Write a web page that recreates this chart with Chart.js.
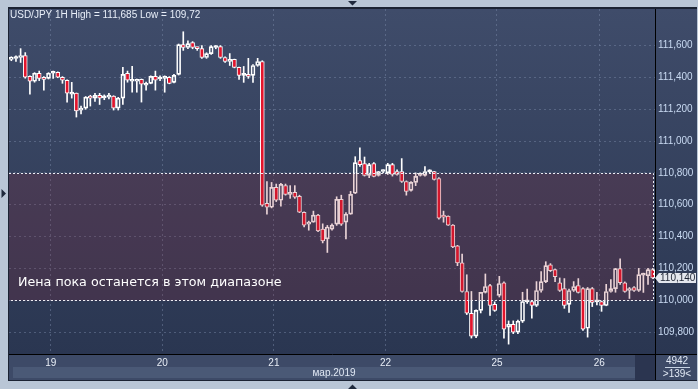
<!DOCTYPE html>
<html>
<head>
<meta charset="utf-8">
<script src="https://cdn.jsdelivr.net/npm/chart.js@4.4.1/dist/chart.umd.min.js"></script>
<style>
  html, body { margin: 0; padding: 0; background: #b9c6d6; overflow: hidden; }
</style>
</head>
<body>
<canvas id="chart" width="698" height="389"></canvas>
<script>
// USD/JPY 1H, 18.03 15:00 .. 26.03 11:00
const opens = [
  111.513, 111.519, 111.525, 111.538, 111.407, 111.376, 111.426, 111.401, 111.394, 111.426,
  111.432, 111.401, 111.382, 111.295, 111.301, 111.195, 111.207, 111.282, 111.27, 111.288,
  111.272, 111.276, 111.282, 111.207, 111.27, 111.426, 111.376, 111.376, 111.388, 111.351,
  111.363, 111.407, 111.39, 111.394, 111.401, 111.369, 111.419, 111.606, 111.588, 111.619,
  111.588, 111.581, 111.525, 111.55, 111.588, 111.594, 111.525, 111.50, 111.513, 111.463,
  111.413, 111.413, 111.413, 111.475, 111.50, 110.609, 110.584, 110.709, 110.628, 110.721,
  110.665, 110.678, 110.653, 110.553, 110.478, 110.491, 110.535, 110.447, 110.385, 110.447,
  110.478, 110.634, 110.491, 110.541, 110.672, 110.877, 110.859, 110.784, 110.859, 110.784,
  110.809, 110.80, 110.852, 110.809, 110.809, 110.746, 110.69, 110.74, 110.784, 110.784,
  110.806, 110.809, 110.765, 110.528, 110.528, 110.472, 110.341, 110.235, 110.055, 109.918,
  109.774, 109.936, 110.049, 110.092, 109.974, 110.03, 110.11, 109.83, 109.849, 109.799,
  109.868, 109.99, 109.992, 109.967, 110.061, 110.117, 110.223, 110.192, 110.11, 110.073,
  109.974, 110.061, 110.092, 110.073, 109.824, 110.073, 109.99, 109.992, 109.967, 110.055,
  110.073, 110.198, 110.11, 110.061, 110.08, 110.061, 110.158, 110.154, 110.192
];
const highs = [
  111.53, 111.535, 111.581, 111.556, 111.41, 111.43, 111.44, 111.405, 111.43, 111.44,
  111.435, 111.405, 111.385, 111.369, 111.302, 111.22, 111.28, 111.288, 111.30, 111.30,
  111.29, 111.30, 111.285, 111.275, 111.463, 111.44, 111.469, 111.39, 111.39, 111.37,
  111.41, 111.44, 111.41, 111.41, 111.405, 111.42, 111.61, 111.687, 111.63, 111.625,
  111.59, 111.60, 111.555, 111.60, 111.60, 111.60, 111.53, 111.55, 111.515, 111.465,
  111.469, 111.52, 111.48, 111.52, 111.505, 110.746, 110.74, 110.73, 110.735, 110.73,
  110.72, 110.72, 110.66, 110.555, 110.497, 110.56, 110.54, 110.48, 110.47, 110.48,
  110.65, 110.66, 110.55, 110.684, 110.902, 110.958, 110.90, 110.86, 110.865, 110.81,
  110.82, 110.86, 110.86, 110.82, 110.89, 110.75, 110.745, 110.80, 110.80, 110.84,
  110.82, 110.81, 110.77, 110.56, 110.53, 110.475, 110.345, 110.29, 110.16, 110.055,
  109.94, 110.05, 110.165, 110.10, 109.99, 110.15, 110.115, 109.87, 109.87, 109.875,
  110.05, 110.07, 109.995, 110.117, 110.18, 110.242, 110.23, 110.195, 110.14, 110.136,
  110.07, 110.117, 110.136, 110.08, 110.08, 110.08, 110.05, 109.995, 110.10, 110.13,
  110.20, 110.26, 110.115, 110.08, 110.085, 110.20, 110.17, 110.20, 110.20
];
const lows = [
  111.505, 111.50, 111.494, 111.395, 111.295, 111.37, 111.38, 111.32, 111.39, 111.394,
  111.398, 111.363, 111.245, 111.27, 111.151, 111.17, 111.20, 111.22, 111.25, 111.23,
  111.26, 111.265, 111.195, 111.195, 111.23, 111.37, 111.307, 111.307, 111.245, 111.32,
  111.36, 111.32, 111.38, 111.307, 111.36, 111.365, 111.415, 111.57, 111.58, 111.58,
  111.57, 111.52, 111.52, 111.545, 111.58, 111.52, 111.495, 111.475, 111.46, 111.388,
  111.369, 111.394, 111.369, 111.47, 110.59, 110.541, 110.58, 110.62, 110.591, 110.66,
  110.64, 110.64, 110.55, 110.46, 110.44, 110.49, 110.43, 110.36, 110.30, 110.44,
  110.47, 110.47, 110.385, 110.54, 110.67, 110.84, 110.78, 110.77, 110.775, 110.78,
  110.80, 110.79, 110.78, 110.785, 110.74, 110.66, 110.685, 110.72, 110.78, 110.78,
  110.80, 110.755, 110.51, 110.49, 110.47, 110.33, 110.217, 110.05, 109.91, 109.762,
  109.765, 109.92, 110.045, 109.905, 109.93, 110.02, 109.762, 109.724, 109.79, 109.79,
  109.86, 109.98, 109.887, 109.96, 110.05, 110.11, 110.18, 110.117, 110.055, 109.949,
  109.924, 110.055, 110.045, 109.81, 109.768, 109.96, 109.97, 109.93, 109.965, 110.05,
  110.05, 110.10, 110.05, 110.011, 110.055, 110.055, 110.049, 110.10, 110.135
];
const closes = [
  111.525, 111.525, 111.538, 111.401, 111.376, 111.426, 111.394, 111.388, 111.426, 111.432,
  111.401, 111.382, 111.301, 111.301, 111.189, 111.207, 111.276, 111.27, 111.288, 111.27,
  111.278, 111.288, 111.207, 111.27, 111.419, 111.382, 111.382, 111.388, 111.357, 111.357,
  111.407, 111.382, 111.396, 111.401, 111.363, 111.413, 111.606, 111.588, 111.612, 111.588,
  111.581, 111.525, 111.55, 111.594, 111.594, 111.525, 111.50, 111.513, 111.463, 111.413,
  111.415, 111.407, 111.475, 111.50, 110.597, 110.584, 110.709, 110.628, 110.728, 110.665,
  110.672, 110.647, 110.553, 110.472, 110.491, 110.535, 110.435, 110.373, 110.46, 110.472,
  110.634, 110.478, 110.541, 110.665, 110.865, 110.852, 110.784, 110.852, 110.778, 110.809,
  110.815, 110.852, 110.79, 110.79, 110.746, 110.684, 110.74, 110.778, 110.79, 110.809,
  110.81, 110.759, 110.516, 110.522, 110.472, 110.335, 110.235, 110.055, 109.918, 109.774,
  109.936, 110.049, 110.086, 109.967, 109.936, 110.105, 109.818, 109.849, 109.799, 109.868,
  109.992, 109.995, 109.967, 110.061, 110.117, 110.217, 110.186, 110.148, 110.061, 109.967,
  110.061, 110.086, 110.049, 109.818, 110.073, 109.986, 109.996, 109.967, 110.055, 110.073,
  110.198, 110.11, 110.055, 110.073, 110.061, 110.161, 110.163, 110.192, 110.14
];

// day labels and the candle index where each day starts
const dayLabels = ['19', '20', '21', '22', '25', '26'];
const dayStarts = [9, 33, 57, 81, 105, 127];
const yTicks = [109.8, 110.0, 110.2, 110.4, 110.6, 110.8, 111.0, 111.2, 111.4, 111.6];
const rangeBox = [110.0, 110.8];

const RED = '#e3142c';
const WHITE = '#ffffff';
const n = opens.length;
const idx = opens.map((_, i) => i);
const fmt = v => v.toFixed(3).replace('.', ',');

const bodies = idx.map(i => ({ x: i, y: [opens[i], closes[i]] }));
const upperWicks = idx.map(i => ({ x: i, y: [Math.max(opens[i], closes[i]), highs[i]] }));
const lowerWicks = idx.map(i => ({ x: i, y: [lows[i], Math.min(opens[i], closes[i])] }));

Chart.defaults.font.family = '"Liberation Sans", Arial, sans-serif';

const frame = {
  id: 'frame',
  beforeDraw(chart) {
    const { ctx, chartArea: a } = chart;
    ctx.save();
    ctx.fillStyle = '#b9c6d6';
    ctx.fillRect(0, 0, 698, 389);
    ctx.fillStyle = '#1b2333';
    ctx.fillRect(8, 7, 689, 374);
    const g = ctx.createLinearGradient(0, a.top, 0, a.bottom);
    g.addColorStop(0, '#3f4c6a');
    g.addColorStop(1, '#2a3651');
    ctx.fillStyle = g;
    ctx.fillRect(9, a.top, 688, a.bottom - a.top);
    // bottom strip
    ctx.fillStyle = '#3d4a67';
    ctx.fillRect(9, a.bottom, 688, 26);
    ctx.fillStyle = '#4a5976';
    ctx.fillRect(13, 367, 622, 11);
    ctx.fillStyle = '#2b3550';
    ctx.fillRect(635, 355, 20, 25);
    ctx.restore();
  },
  afterDatasetsDraw(chart) {
    const { ctx, chartArea: a, scales: { x, y } } = chart;
    const top = Math.round(y.getPixelForValue(rangeBox[1])) + 0.5;
    const bot = Math.round(y.getPixelForValue(rangeBox[0])) + 0.5;
    const right = Math.round(x.getPixelForValue(n - 1)) + 0.5;
    ctx.save();
    ctx.fillStyle = 'rgba(150,36,52,0.2)';
    ctx.fillRect(a.left, top, right - a.left, bot - top);
    ctx.strokeStyle = '#ececf2';
    ctx.lineWidth = 1;
    ctx.setLineDash([2, 2]);
    ctx.beginPath();
    ctx.moveTo(a.left, top); ctx.lineTo(right, top); ctx.lineTo(right, bot); ctx.lineTo(a.left, bot);
    ctx.stroke();
    ctx.setLineDash([]);
    ctx.font = '12.7px "DejaVu Sans"';
    ctx.fillStyle = WHITE;
    ctx.textBaseline = 'middle';
    ctx.fillText('Иена пока останется в этом диапазоне', 18, 283);
    ctx.restore();
  },
  afterDraw(chart) {
    const { ctx, scales: { y } } = chart;
    ctx.save();
    ctx.textBaseline = 'middle';
    // title
    ctx.font = '10px "Liberation Sans"';
    ctx.fillStyle = '#e8eef8';
    ctx.fillText('USD/JPY 1H High = 111,685 Low = 109,72', 10, 15);
    // last price marker
    const yc = y.getPixelForValue(closes[n - 1]);
    ctx.fillStyle = '#e4e7ee';
    ctx.beginPath();
    ctx.moveTo(655, yc); ctx.lineTo(659, yc - 5); ctx.lineTo(696, yc - 5);
    ctx.lineTo(696, yc + 5); ctx.lineTo(659, yc + 5); ctx.closePath();
    ctx.fill();
    ctx.fillStyle = '#1d2433';
    ctx.font = '10px "Liberation Sans"';
    ctx.fillText(fmt(closes[n - 1]), 660, yc + 0.5);
    // black separators
    ctx.strokeStyle = '#000';
    ctx.lineWidth = 1;
    ctx.beginPath();
    ctx.moveTo(655.5, 354); ctx.lineTo(655.5, 380);
    ctx.moveTo(655, 354.5); ctx.lineTo(697, 354.5);
    ctx.stroke();
    // bottom strip texts
    ctx.font = '10px "Liberation Sans"';
    ctx.textAlign = 'center';
    ctx.fillStyle = '#e0e8f4';
    ctx.fillText('мар.2019', 334, 373);
    ctx.fillText('4942', 677, 361);
    ctx.fillText('>139<', 677, 374);
    ctx.strokeStyle = '#c8d4e4';
    ctx.beginPath();
    ctx.moveTo(665, 367.5); ctx.lineTo(690, 367.5);
    ctx.stroke();
    // little triangles on the frame
    ctx.fillStyle = '#1f2a3d';
    ctx.beginPath();
    ctx.moveTo(348, 1); ctx.lineTo(357, 1); ctx.lineTo(352.5, 5.5); ctx.closePath();
    ctx.moveTo(1.5, 189); ctx.lineTo(1.5, 198); ctx.lineTo(6, 193.5); ctx.closePath();
    ctx.moveTo(348, 389); ctx.lineTo(357, 389); ctx.lineTo(352.5, 384.5); ctx.closePath();
    ctx.fill();
    ctx.restore();
  }
};

new Chart(document.getElementById('chart'), {
  type: 'bar',
  data: {
    datasets: [
      {
        data: bodies,
        backgroundColor: c => closes[c.dataIndex] < opens[c.dataIndex] ? RED : 'rgba(0,0,0,0)',
        borderColor: WHITE,
        borderWidth: 1,
        borderSkipped: false,
        barThickness: 4,
        minBarLength: 2,
        grouped: false
      },
      { data: upperWicks, backgroundColor: WHITE, barThickness: 1, grouped: false },
      { data: lowerWicks, backgroundColor: WHITE, barThickness: 1, grouped: false }
    ]
  },
  options: {
    responsive: false,
    animation: false,
    events: [],
    layout: { padding: { left: 9, top: 8, right: 0, bottom: 11 } },
    plugins: { legend: { display: false }, tooltip: { enabled: false } },
    scales: {
      x: {
        type: 'linear',
        min: -0.5,
        max: n - 0.5,
        bounds: 'data',
        offset: false,
        afterBuildTicks: s => { s.ticks = dayStarts.map(d => ({ value: d - 0.5 })); },
        afterFit: s => { s.height = 24; },
        ticks: {
          autoSkip: false,
          maxRotation: 0,
          padding: 3,
          color: '#e8eef6',
          font: { size: 10 },
          callback: (v, i) => dayLabels[i]
        },
        grid: { color: 'rgba(125,140,170,0.45)', drawTicks: false, offset: false },
        border: { color: '#000', width: 1, dash: [2, 3] }
      },
      y: {
        position: 'right',
        min: 109.662,
        max: 111.83,
        bounds: 'data',
        afterBuildTicks: s => { s.ticks = yTicks.map(v => ({ value: v })); },
        afterFit: s => { s.width = 43; },
        ticks: {
          padding: 3,
          color: '#c9daf2',
          font: { size: 10 },
          callback: v => fmt(v)
        },
        grid: { color: 'rgba(125,140,170,0.45)', drawTicks: false },
        border: { color: '#000', width: 1, dash: [2, 3] }
      }
    }
  },
  plugins: [frame]
});
</script>
</body>
</html>
